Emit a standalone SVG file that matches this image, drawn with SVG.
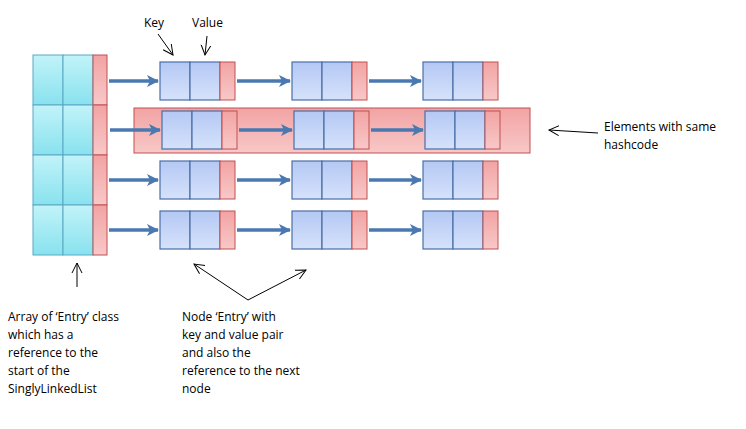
<svg xmlns="http://www.w3.org/2000/svg" width="746" height="429" viewBox="0 0 746 429">
<defs>
<linearGradient id="cy" x1="0" y1="0" x2="0" y2="1"><stop offset="0" stop-color="#c2f3f9"/><stop offset="1" stop-color="#88e2ee"/></linearGradient>
<linearGradient id="bl" x1="0" y1="0" x2="0" y2="1"><stop offset="0" stop-color="#b4c8f4"/><stop offset="1" stop-color="#d6e2fb"/></linearGradient>
<linearGradient id="pk" x1="0" y1="0" x2="0" y2="1"><stop offset="0" stop-color="#f2a3a3"/><stop offset="1" stop-color="#f8c8c8"/></linearGradient>
<marker id="ah" markerWidth="14" markerHeight="14" refX="11" refY="7" orient="auto" markerUnits="userSpaceOnUse"><path d="M0,1 L12,7 L0,13 L3,7 z" fill="#4a78b0"/></marker>
<marker id="th" markerWidth="12" markerHeight="12" refX="10" refY="6" orient="auto" markerUnits="userSpaceOnUse"><path d="M0,1 L10,6 L0,11" fill="none" stroke="#000" stroke-width="1"/></marker>
</defs>
<style>
.c{fill:url(#cy);stroke:#5aa7c4;stroke-width:1}
.b{fill:url(#bl);stroke:#4a6fa5;stroke-width:1.2}
.p{fill:url(#pk);stroke:#c05050;stroke-width:1}
.a{stroke:#4a78b0;stroke-width:3.5;fill:none;marker-end:url(#ah)}
.t{stroke:#000;stroke-width:1;fill:none;marker-end:url(#th)}
text{font-family:"Open Sans","Liberation Sans",sans-serif;font-size:12px;fill:#000}
</style>
<g id="highlight"><rect x="134" y="108" width="396" height="45" class="p"/></g>
<g id="array">
<rect x="33" y="55" width="30" height="50" class="c"/><rect x="63" y="55" width="30" height="50" class="c"/><rect x="93" y="55" width="14" height="50" class="p"/>
<rect x="33" y="105" width="30" height="50" class="c"/><rect x="63" y="105" width="30" height="50" class="c"/><rect x="93" y="105" width="14" height="50" class="p"/>
<rect x="33" y="155" width="30" height="50" class="c"/><rect x="63" y="155" width="30" height="50" class="c"/><rect x="93" y="155" width="14" height="50" class="p"/>
<rect x="33" y="205" width="30" height="50" class="c"/><rect x="63" y="205" width="30" height="50" class="c"/><rect x="93" y="205" width="14" height="50" class="p"/>
</g>
<g id="n11"><rect x="160" y="62" width="30" height="38" class="b"/><rect x="190" y="62" width="30" height="38" class="b"/><rect x="220" y="62" width="15" height="38" class="p"/></g>
<g id="n12"><rect x="292" y="62" width="30" height="38" class="b"/><rect x="322" y="62" width="30" height="38" class="b"/><rect x="352" y="62" width="15" height="38" class="p"/></g>
<g id="n13"><rect x="423" y="62" width="30" height="38" class="b"/><rect x="453" y="62" width="30" height="38" class="b"/><rect x="483" y="62" width="15" height="38" class="p"/></g>
<g id="n21"><rect x="162" y="111" width="30" height="38" class="b"/><rect x="192" y="111" width="30" height="38" class="b"/><rect x="222" y="111" width="15" height="38" class="p"/></g>
<g id="n22"><rect x="294" y="111" width="30" height="38" class="b"/><rect x="324" y="111" width="30" height="38" class="b"/><rect x="354" y="111" width="15" height="38" class="p"/></g>
<g id="n23"><rect x="425" y="111" width="30" height="38" class="b"/><rect x="455" y="111" width="30" height="38" class="b"/><rect x="485" y="111" width="15" height="38" class="p"/></g>
<g id="n31"><rect x="160" y="161" width="30" height="38" class="b"/><rect x="190" y="161" width="30" height="38" class="b"/><rect x="220" y="161" width="15" height="38" class="p"/></g>
<g id="n32"><rect x="292" y="161" width="30" height="38" class="b"/><rect x="322" y="161" width="30" height="38" class="b"/><rect x="352" y="161" width="15" height="38" class="p"/></g>
<g id="n33"><rect x="423" y="161" width="30" height="38" class="b"/><rect x="453" y="161" width="30" height="38" class="b"/><rect x="483" y="161" width="15" height="38" class="p"/></g>
<g id="n41"><rect x="160" y="211" width="30" height="38" class="b"/><rect x="190" y="211" width="30" height="38" class="b"/><rect x="220" y="211" width="15" height="38" class="p"/></g>
<g id="n42"><rect x="292" y="211" width="30" height="38" class="b"/><rect x="322" y="211" width="30" height="38" class="b"/><rect x="352" y="211" width="15" height="38" class="p"/></g>
<g id="n43"><rect x="423" y="211" width="30" height="38" class="b"/><rect x="453" y="211" width="30" height="38" class="b"/><rect x="483" y="211" width="15" height="38" class="p"/></g>
<g id="connectors">
<line x1="109" y1="81" x2="158" y2="81" class="a"/><line x1="237" y1="81" x2="290" y2="81" class="a"/><line x1="369" y1="81" x2="421" y2="81" class="a"/>
<line x1="110" y1="130" x2="160" y2="130" class="a"/><line x1="239" y1="130" x2="292" y2="130" class="a"/><line x1="371" y1="130" x2="423" y2="130" class="a"/>
<line x1="109" y1="180" x2="158" y2="180" class="a"/><line x1="237" y1="180" x2="290" y2="180" class="a"/><line x1="369" y1="180" x2="421" y2="180" class="a"/>
<line x1="109" y1="230" x2="158" y2="230" class="a"/><line x1="237" y1="230" x2="290" y2="230" class="a"/><line x1="369" y1="230" x2="421" y2="230" class="a"/>
<line x1="158" y1="34" x2="173" y2="55" class="t"/><line x1="207" y1="36" x2="205" y2="55" class="t"/>
<line x1="598" y1="133" x2="549" y2="130" class="t"/>
<line x1="77" y1="287" x2="77" y2="263" class="t"/>
<line x1="248" y1="300" x2="194" y2="264" class="t"/><line x1="248" y1="300" x2="306" y2="270" class="t"/>
</g>
<g id="labels">
<text x="144" y="27">Key</text><text x="192" y="27">Value</text>
<text x="604" y="131">Elements with same</text><text x="604" y="149">hashcode</text>
<text x="8" y="321">Array of ‘Entry’ class</text><text x="8" y="339">which has a</text><text x="8" y="357">reference to the</text><text x="8" y="375">start of the</text><text x="8" y="393">SinglyLinkedList</text>
<text x="182" y="321">Node ‘Entry’ with</text><text x="182" y="339">key and value pair</text><text x="182" y="357">and also the</text><text x="182" y="375">reference to the next</text><text x="182" y="393">node</text>
</g>
</svg>
